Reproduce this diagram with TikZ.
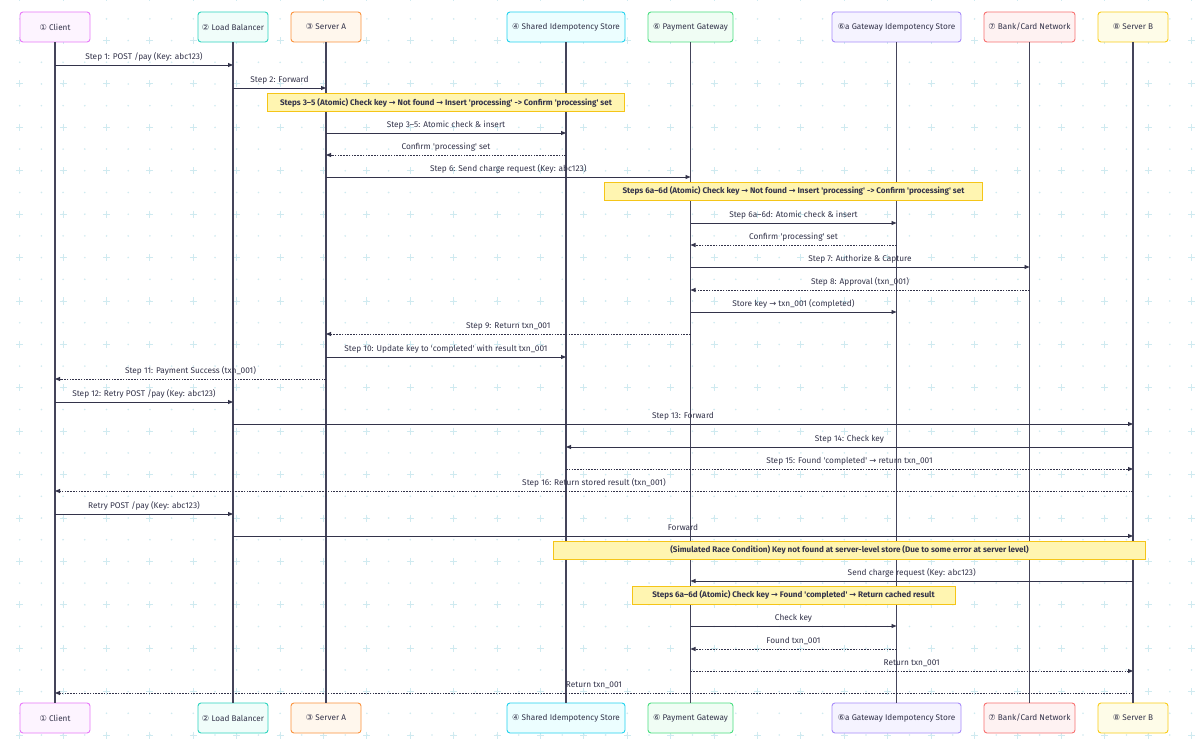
\documentclass[tikz,border=0pt]{standalone}
\usepackage{fontspec}
\setmainfont{Fira Sans}
\newfontfamily\glyphfont{DejaVu Sans}
\usetikzlibrary{arrows.meta, positioning, calc}

\definecolor{ink}{HTML}{33334A}
\definecolor{lifec}{HTML}{44445A}
\definecolor{dotc}{HTML}{CFEAF0}
\definecolor{clientc}{HTML}{E879F9}\definecolor{clientbg}{HTML}{FDF4FF}
\definecolor{lbc}{HTML}{2DD4BF}\definecolor{lbbg}{HTML}{F0FDFA}
\definecolor{srvac}{HTML}{FB923C}\definecolor{srvabg}{HTML}{FFF7ED}
\definecolor{storec}{HTML}{22D3EE}\definecolor{storebg}{HTML}{ECFEFF}
\definecolor{pgc}{HTML}{4ADE80}\definecolor{pgbg}{HTML}{F0FDF4}
\definecolor{gstorec}{HTML}{A78BFA}\definecolor{gstorebg}{HTML}{F5F3FF}
\definecolor{bankc}{HTML}{F87171}\definecolor{bankbg}{HTML}{FEF2F2}
\definecolor{srvbc}{HTML}{FACC15}\definecolor{srvbbg}{HTML}{FEFCE8}
\definecolor{notec}{HTML}{F5C518}\definecolor{notebg}{HTML}{FFF5B1}

\newcommand{\arrowsym}{{\glyphfont →}}
\newcommand{\quoted}[1]{\textquotesingle#1\textquotesingle}

\begin{document}
\begin{tikzpicture}[x=1pt, y=-1pt,
  actor/.style={rectangle, draw, rounded corners=3pt, line width=0.9pt,
                minimum height=30pt, text=ink, font=\fontsize{8.2}{10}\selectfont},
  note/.style={rectangle, draw=notec, fill=notebg, line width=0.9pt,
               minimum height=18pt, text=ink, font=\bfseries\fontsize{8.1}{9}\selectfont},
  life/.style={draw=lifec, line width=1.1pt},
  msg/.style={-{Triangle[length=5pt, width=4pt]}, draw=ink, line width=0.9pt},
  reply/.style={msg, dash pattern=on 1.6pt off 1.2pt},
  lbl/.style={midway, above, inner ysep=3.5pt, text=ink, text height=6pt,
              text depth=1.7pt, font=\fontsize{8.3}{9}\selectfont}
]
\useasboundingbox (0,0) rectangle (1200,746);
\fill[white] (0,0) rectangle (1200,746);

% background grid
\foreach \i in {0,...,54}
  \foreach \j in {-2,...,32}
    \fill[dotc] (19.7+21.7*\i, 40.6+21.7*\j) circle (0.9pt);
\foreach \i in {0,2,...,54}
  \foreach \j in {-2,0,...,32}
    \draw[dotc, line width=1pt] (19.7+21.7*\i-3.5, 40.6+21.7*\j) -- ++(7,0)
      (19.7+21.7*\i, 40.6+21.7*\j-3.5) -- ++(0,7);

% participants
\node[actor, draw=clientc, fill=clientbg, minimum width=70pt] (client) at (55,27) {{\glyphfont ①} Client};
\node[actor, draw=lbc, fill=lbbg, minimum width=70pt] (lb) at (233,27) {{\glyphfont ②} Load Balancer};
\node[actor, draw=srvac, fill=srvabg, minimum width=70pt] (srva) at (326,27) {{\glyphfont ③} Server A};
\node[actor, draw=storec, fill=storebg, minimum width=118pt] (store) at (566,27) {{\glyphfont ④} Shared Idempotency Store};
\node[actor, draw=pgc, fill=pgbg, minimum width=85pt] (pg) at (690.5,27) {{\glyphfont ⑥} Payment Gateway};
\node[actor, draw=gstorec, fill=gstorebg, minimum width=129pt] (gstore) at (896.5,27) {{\glyphfont ⑥}a Gateway Idempotency Store};
\node[actor, draw=bankc, fill=bankbg, minimum width=91pt] (bank) at (1029.5,27) {{\glyphfont ⑦} Bank/Card Network};
\node[actor, draw=srvbc, fill=srvbbg, minimum width=70pt] (srvb) at (1133,27) {{\glyphfont ⑧} Server B};

\node[actor, draw=clientc, fill=clientbg, minimum width=70pt] (client-b) at (55,718) {{\glyphfont ①} Client};
\node[actor, draw=lbc, fill=lbbg, minimum width=70pt] (lb-b) at (233,718) {{\glyphfont ②} Load Balancer};
\node[actor, draw=srvac, fill=srvabg, minimum width=70pt] (srva-b) at (326,718) {{\glyphfont ③} Server A};
\node[actor, draw=storec, fill=storebg, minimum width=118pt] (store-b) at (566,718) {{\glyphfont ④} Shared Idempotency Store};
\node[actor, draw=pgc, fill=pgbg, minimum width=85pt] (pg-b) at (690.5,718) {{\glyphfont ⑥} Payment Gateway};
\node[actor, draw=gstorec, fill=gstorebg, minimum width=129pt] (gstore-b) at (896.5,718) {{\glyphfont ⑥}a Gateway Idempotency Store};
\node[actor, draw=bankc, fill=bankbg, minimum width=91pt] (bank-b) at (1029.5,718) {{\glyphfont ⑦} Bank/Card Network};
\node[actor, draw=srvbc, fill=srvbbg, minimum width=70pt] (srvb-b) at (1133,718) {{\glyphfont ⑧} Server B};

\foreach \a in {client,lb,srva,store,pg,gstore,bank,srvb}
  \draw[life] (\a.south) -- (\a-b.north);

% first request
\draw[msg] (client |- 0,65) -- node[lbl] {Step 1: POST /pay (Key: abc123)} (lb |- 0,65);
\draw[msg] (lb |- 0,88) -- node[lbl] {Step 2: Forward} (srva |- 0,88);
\node[note, minimum width=357pt] (note1) at ($(srva |- 0,102.5)!.5!(store |- 0,102.5)$)
  {Steps 3–5 (Atomic) Check key \arrowsym{} Not found \arrowsym{} Insert \quoted{processing} -> Confirm \quoted{processing} set};
\draw[msg] (srva |- 0,133) -- node[lbl] {Step 3–5: Atomic check \& insert} (store |- 0,133);
\draw[reply] (store |- 0,155) -- node[lbl] {Confirm \quoted{processing} set} (srva |- 0,155);
\draw[msg] (srva |- 0,177) -- node[lbl] {Step 6: Send charge request (Key: abc123)} (pg |- 0,177);
\node[note, minimum width=378pt] (note2) at ($(pg |- 0,191)!.5!(gstore |- 0,191)$)
  {Steps 6a–6d (Atomic) Check key \arrowsym{} Not found \arrowsym{} Insert \quoted{processing} -> Confirm \quoted{processing} set};
\draw[msg] (pg |- 0,223) -- node[lbl] {Step 6a–6d: Atomic check \& insert} (gstore |- 0,223);
\draw[reply] (gstore |- 0,245) -- node[lbl] {Confirm \quoted{processing} set} (pg |- 0,245);
\draw[msg] (pg |- 0,267) -- node[lbl] {Step 7: Authorize \& Capture} (bank |- 0,267);
\draw[reply] (bank |- 0,290) -- node[lbl] {Step 8: Approval (txn\_001)} (pg |- 0,290);
\draw[msg] (pg |- 0,312) -- node[lbl] {Store key \arrowsym{} txn\_001 (completed)} (gstore |- 0,312);
\draw[reply] (pg |- 0,334) -- node[lbl] {Step 9: Return txn\_001} (srva |- 0,334);
\draw[msg] (srva |- 0,357) -- node[lbl] {Step 10: Update key to \quoted{completed} with result txn\_001} (store |- 0,357);
\draw[reply] (srva |- 0,379) -- node[lbl] {Step 11: Payment Success (txn\_001)} (client |- 0,379);

% retry
\draw[msg] (client |- 0,402) -- node[lbl] {Step 12: Retry POST /pay (Key: abc123)} (lb |- 0,402);
\draw[msg] (lb |- 0,424) -- node[lbl] {Step 13: Forward} (srvb |- 0,424);
\draw[msg] (srvb |- 0,447) -- node[lbl] {Step 14: Check key} (store |- 0,447);
\draw[reply] (store |- 0,469) -- node[lbl] {Step 15: Found \quoted{completed} \arrowsym{} return txn\_001} (srvb |- 0,469);
\draw[reply] (srvb |- 0,491) -- node[lbl] {Step 16: Return stored result (txn\_001)} (client |- 0,491);

% race condition
\draw[msg] (client |- 0,514) -- node[lbl] {Retry POST /pay (Key: abc123)} (lb |- 0,514);
\draw[msg] (lb |- 0,536) -- node[lbl] {Forward} (srvb |- 0,536);
\node[note, minimum width=592pt] (note3) at ($(store |- 0,550)!.5!(srvb |- 0,550)$)
  {(Simulated Race Condition) Key not found at server-level store (Due to some error at server level)};
\draw[msg] (srvb |- 0,581) -- node[lbl] {Send charge request (Key: abc123)} (pg |- 0,581);
\node[note, minimum width=323pt] (note4) at ($(pg |- 0,595)!.5!(gstore |- 0,595)$)
  {Steps 6a–6d (Atomic) Check key \arrowsym{} Found \quoted{completed} \arrowsym{} Return cached result};
\draw[msg] (pg |- 0,626) -- node[lbl] {Check key} (gstore |- 0,626);
\draw[reply] (gstore |- 0,649) -- node[lbl] {Found txn\_001} (pg |- 0,649);
\draw[reply] (pg |- 0,671) -- node[lbl] {Return txn\_001} (srvb |- 0,671);
\draw[reply] (srvb |- 0,693) -- node[lbl] {Return txn\_001} (client |- 0,693);
\end{tikzpicture}
\end{document}
